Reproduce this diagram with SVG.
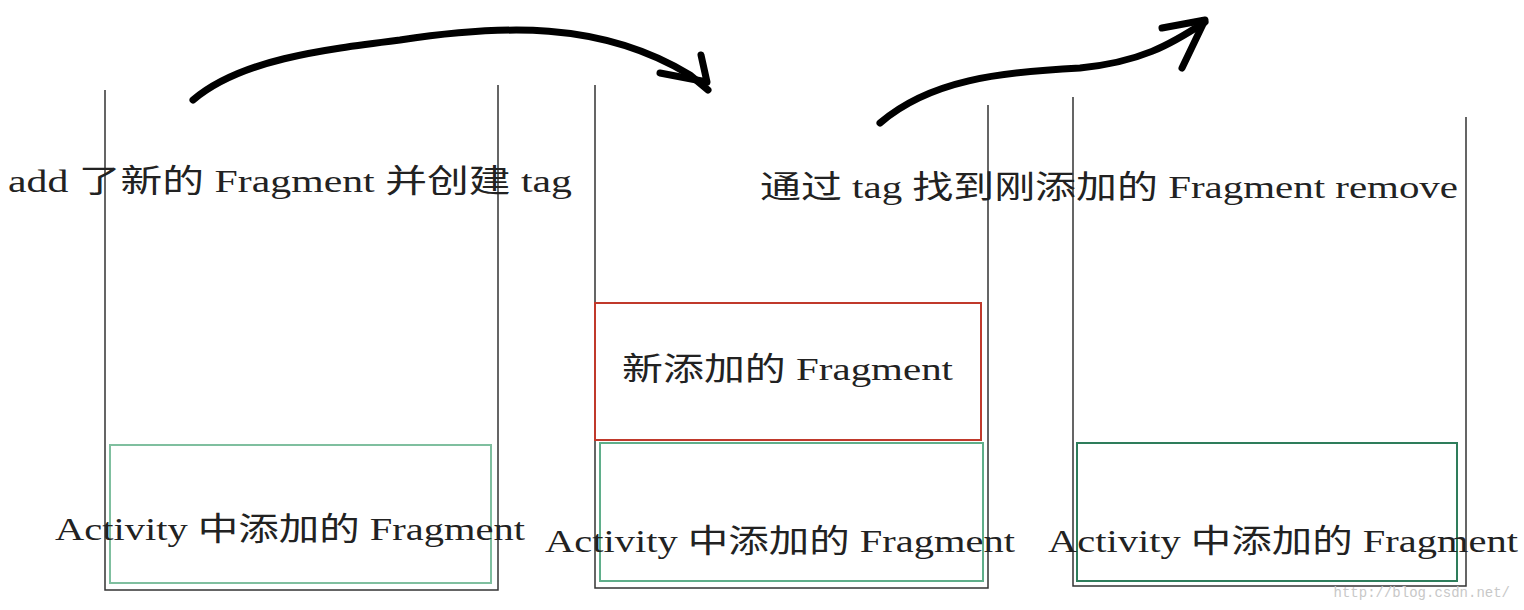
<svg xmlns="http://www.w3.org/2000/svg" width="1524" height="610" viewBox="0 0 1524 610">
<style>
.wall{stroke:#333;stroke-width:1.5;fill:none}
.t{font-family:"Liberation Serif","Noto Sans CJK SC",serif;font-size:32px;fill:#222}
.arr{stroke:#000;stroke-width:7;fill:none;stroke-linecap:round;stroke-linejoin:round}
</style>
<rect width="1524" height="610" fill="#fff"/>
<g id="stack1">
<polyline class="wall" points="105,90 105,590 498,590 498,85"/>
<rect x="110" y="445" width="381" height="138" fill="none" stroke="#7fbf9f" stroke-width="2"/>
<text class="t" x="55" y="540" textLength="470" lengthAdjust="spacingAndGlyphs">Activity 中添加的 Fragment</text>
</g>
<g id="stack2">
<polyline class="wall" points="595,85 595,588 988,588 988,105"/>
<rect x="595" y="303" width="386" height="137" fill="none" stroke="#c0392b" stroke-width="2"/>
<text class="t" x="622" y="380" textLength="331" lengthAdjust="spacingAndGlyphs">新添加的 Fragment</text>
<rect x="600" y="443" width="383" height="138" fill="none" stroke="#5fae8a" stroke-width="2"/>
<text class="t" x="545" y="552" textLength="470" lengthAdjust="spacingAndGlyphs">Activity 中添加的 Fragment</text>
</g>
<g id="stack3">
<polyline class="wall" points="1073,97 1073,586 1466,586 1466,117"/>
<rect x="1077" y="443" width="380" height="138" fill="none" stroke="#2e7d5b" stroke-width="2"/>
<text class="t" x="1048" y="552" textLength="470" lengthAdjust="spacingAndGlyphs">Activity 中添加的 Fragment</text>
</g>
<g id="labels">
<text class="t" x="8" y="192" textLength="564" lengthAdjust="spacingAndGlyphs">add 了新的 Fragment 并创建 tag</text>
<text class="t" x="760" y="198" textLength="698" lengthAdjust="spacingAndGlyphs">通过 tag 找到刚添加的 Fragment remove</text>
<text x="1510" y="597" font-family="Liberation Mono,monospace" font-size="14" fill="#c8c8c8" text-anchor="end">http://blog.csdn.net/</text>
</g>
<g id="connectors">
<path class="arr" d="M193,100 C240,60 320,50 400,40 C500,25 600,20 690,75 L708,90"/>
<path class="arr" d="M660,73 L707,82 L701,55"/>
<path class="arr" d="M880,123 C930,80 1000,72 1080,68 C1140,62 1170,45 1205,22"/>
<path class="arr" d="M1162,28 L1205,20 L1182,68"/>
</g>
</svg>
